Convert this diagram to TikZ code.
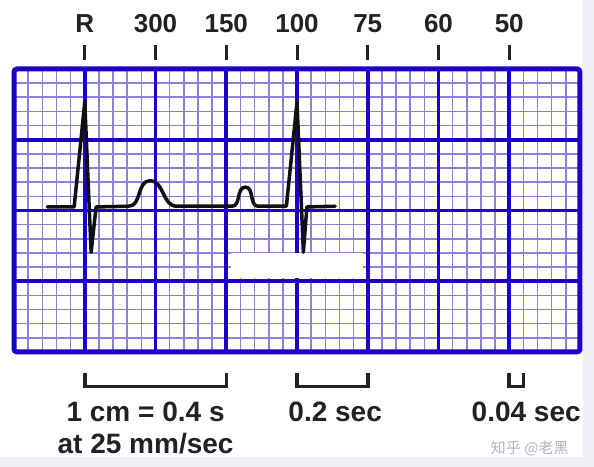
\documentclass[tikz,border=0pt]{standalone}
\usepackage{fontspec}
\setmainfont{Liberation Sans}
\newfontfamily\cjkfont{Noto Sans CJK SC}
\usepackage{tikz}
\usetikzlibrary{positioning}
\definecolor{gridBlue}{HTML}{1A00C8}
\definecolor{gridLilac}{HTML}{8C80DA}
\definecolor{traceBlack}{HTML}{101010}
\definecolor{labelGray}{HTML}{222222}
\definecolor{markGray}{HTML}{B4B4B4}
\definecolor{pageBg}{HTML}{EEF0F5}

\begin{document}
\begin{tikzpicture}[
  x=70.75pt, y=70.75pt,
  every node/.style={font=\bfseries, text=labelGray, inner sep=0pt},
  minor/.style={draw=gridLilac, line width=1.6pt},
  major/.style={draw=gridBlue, line width=3.8pt},
  frame/.style={draw=gridBlue, line width=5pt, rounded corners=3pt},
  tickmark/.style={draw=labelGray, line width=3pt},
  rate/.style={font=\fontsize{26}{30}\selectfont\bfseries},
  scaletxt/.style={font=\fontsize{28}{32}\selectfont\bfseries},
  bracket/.style={draw=labelGray, line width=3.5pt},
  trace/.style={draw=traceBlack, line width=3.5pt, line join=round, line cap=round},
]
  \useasboundingbox[fill=pageBg] (-0.198,-1.625) rectangle (8.198,4.975);
  \fill[white] (-0.198,-1.484) rectangle (8.04,4.975);

  % small squares, then the 5 mm squares
  \foreach \i in {1,...,39} \draw[minor] (\i/5,0) -- (\i/5,4);
  \foreach \j in {1,...,19} \draw[minor] (0,\j/5) -- (8,\j/5);
  \foreach \i in {1,...,7} \draw[major] (\i,0) -- (\i,4);
  \foreach \j in {1,2,3} \draw[major] (0,\j) -- (8,\j);
  \draw[frame] (0,0) rectangle (8,4);

  % heart rate marks
  \foreach \x/\lbl [count=\k] in {1/R,2/300,3/150,4/100,5/75,6/60,7/50} {
    \draw[tickmark] (\x,4.13) -- (\x,4.34) coordinate (tick\k);
    \node[rate, above=12pt of tick\k] (rate\k) {\lbl};
  }

  \fill[white] (3.07,1.05) rectangle (4.93,1.40);

  % ecg trace
  \draw[trace] (0.47,2.05) -- (0.85,2.05) -- (1.0,3.53) -- (1.09,1.41) -- (1.16,2.05)
    -- (1.62,2.06) to[out=0,in=180] (1.92,2.42) to[out=0,in=180] (2.30,2.06)
    -- (3.08,2.06) to[out=0,in=180] (3.27,2.33) to[out=0,in=180] (3.45,2.06)
    -- (3.85,2.06) -- (4.0,3.53) -- (4.09,1.41) -- (4.14,2.05) -- (4.54,2.06);

  % time scale
  \draw[bracket] (1,-0.30) |- (3,-0.49) -- (3,-0.30);
  \draw[bracket] (4,-0.30) |- (5,-0.49) -- (5,-0.30);
  \draw[bracket] (7,-0.30) |- (7.2,-0.49) -- (7.2,-0.30);

  \node[scaletxt, anchor=base] (cm) at (1.86,-0.98) {1 cm = 0.4 s};
  \node[scaletxt, anchor=base] (speed) at (1.86,-1.44) {at 25 mm/sec};
  \node[scaletxt, anchor=base] (big) at (4.54,-0.98) {0.2 sec};
  \node[scaletxt, anchor=base] (small) at (7.24,-0.98) {0.04 sec};

  \node[font=\cjkfont\fontsize{15}{18}\selectfont, text=markGray] (mark) at (7.29,-1.36) {知乎 @老黑};
\end{tikzpicture}
\end{document}
